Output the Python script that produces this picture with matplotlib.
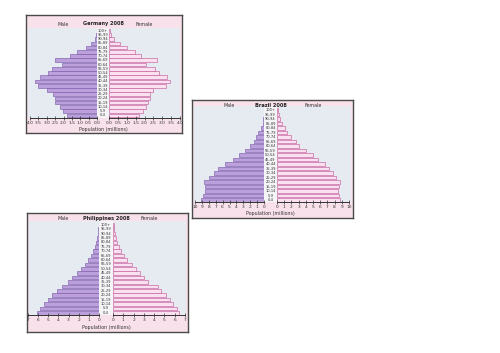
import matplotlib.pyplot as plt
from matplotlib.patches import Rectangle
from matplotlib.transforms import blended_transform_factory

W, H = 500, 353

ages = ['0-4', '5-9', '10-14', '15-19', '20-24', '25-29', '30-34', '35-39',
        '40-44', '45-49', '50-54', '55-59', '60-64', '65-69', '70-74',
        '75-79', '80-84', '85-89', '90-94', '95-99', '100+']

# values in millions, youngest group first
germany_male = [1.8, 2.05, 2.2, 2.5, 2.5, 2.6, 3.0, 3.5, 3.7, 3.4, 2.9,
                2.7, 2.1, 2.5, 1.6, 1.2, 0.65, 0.35, 0.1, 0.05, 0.01]
germany_female = [1.7, 1.9, 2.1, 2.2, 2.3, 2.3, 2.5, 3.2, 3.45, 3.25, 2.8,
                  2.6, 2.1, 2.7, 1.8, 1.45, 1.0, 0.6, 0.3, 0.12, 0.05]

brazil_male = [9.2, 8.8, 8.5, 8.5, 8.7, 7.9, 7.3, 6.6, 5.6, 4.5, 3.6,
               2.7, 2.0, 1.5, 1.2, 0.8, 0.5, 0.2, 0.1, 0.05, 0.02]
brazil_female = [8.8, 8.6, 8.5, 8.6, 8.8, 8.2, 7.8, 7.2, 6.6, 5.7, 5.0,
                 4.0, 3.1, 2.6, 2.0, 1.4, 1.05, 0.75, 0.45, 0.25, 0.1]

phil_male = [6.1, 5.8, 5.45, 5.0, 4.6, 4.1, 3.6, 3.05, 2.7, 2.2, 1.75,
             1.35, 1.05, 0.8, 0.55, 0.4, 0.25, 0.15, 0.1, 0.05, 0.02]
phil_female = [6.4, 6.2, 5.8, 5.5, 5.2, 4.7, 4.4, 3.4, 3.0, 2.6, 2.2,
               1.8, 1.4, 1.1, 0.8, 0.6, 0.4, 0.25, 0.15, 0.1, 0.05]

germany_ticks = [0, 0.5, 1.0, 1.5, 2.0, 2.5, 3.0, 3.5, 4.0]
germany_ticklabels = ['0.0', '0.5', '1.0', '1.5', '2.0', '2.5', '3.0', '3.5', '4.0']
brazil_ticks = list(range(0, 11))
phil_ticks = list(range(0, 8))

MALE_FILL, MALE_EDGE = '#bba0dc', '#7d5cab'
FEMALE_FILL, FEMALE_EDGE = '#fbe0ef', '#c55e9d'
FRAME_BG, PLOT_BG = '#f8e1ea', '#e6ebf2'

fig = plt.figure(figsize=(5, 3.53), dpi=100)
fig.patch.set_facecolor('white')


def box(x0, y0, x1, y1):
    return [x0 / W, 1 - y1 / H, (x1 - x0) / W, (y1 - y0) / H]


def pyramid(frame, plot, male_x, female_x, bars_y, title, male, female,
            xmax, ticks, ticklabels, title_y, label_y, xlabel_y):
    fx0, fy0, fx1, fy1 = frame
    # frame in pixel coords, relative to the figure
    bg = fig.add_axes(box(*frame))
    bg.set_xlim(fx0, fx1)
    bg.set_ylim(fy1, fy0)
    bg.set_facecolor(FRAME_BG)
    bg.set_xticks([])
    bg.set_yticks([])
    for s in bg.spines.values():
        s.set_color('#4a4a4a')
        s.set_linewidth(1.0)
    px0, py0, px1, py1 = plot
    bg.add_patch(Rectangle((px0, py0), px1 - px0, py1 - py0,
                           facecolor=PLOT_BG, edgecolor='none'))
    # white column for the age labels
    bg.add_patch(Rectangle((male_x[1], py0), female_x[0] - male_x[1], py1 - py0,
                           facecolor='#f4f4f6', edgecolor='none'))
    cx = (male_x[1] + female_x[0]) / 2
    bg.text(cx, title_y, title, ha='center', va='center', fontsize=3.6,
            fontweight='bold', color='#222')
    bg.text((male_x[0] + male_x[1]) / 2, title_y, 'Male', ha='center',
            va='center', fontsize=3.4, color='#333')
    bg.text((female_x[0] + female_x[1]) / 2, title_y, 'Female', ha='center',
            va='center', fontsize=3.4, color='#333')
    bg.text(cx, xlabel_y, 'Population (millions)', ha='center', va='center',
            fontsize=3.4, color='#333')

    y = list(range(len(ages)))
    axm = fig.add_axes(box(male_x[0], bars_y[0], male_x[1], bars_y[1]))
    axf = fig.add_axes(box(female_x[0], bars_y[0], female_x[1], bars_y[1]))
    axm.barh(y, male, height=0.86, color=MALE_FILL, edgecolor=MALE_EDGE, linewidth=0.45)
    axf.barh(y, female, height=0.86, color=FEMALE_FILL, edgecolor=FEMALE_EDGE, linewidth=0.45)
    axm.set_xlim(xmax, 0)
    axf.set_xlim(0, xmax)
    for ax in (axm, axf):
        ax.set_ylim(-0.5, len(ages) - 0.5)
        ax.patch.set_alpha(0)
        ax.set_yticks([])
        ax.set_xticks(ticks)
        ax.set_xticklabels(ticklabels)
        ax.tick_params(axis='x', direction='inout', length=2.2, width=0.5,
                       labelsize=3.2, pad=1.2, colors='#333')
        for side in ('top', 'left', 'right'):
            ax.spines[side].set_visible(False)
        ax.spines['bottom'].set_linewidth(0.7)
        ax.spines['bottom'].set_color('#333')
    # age labels in the middle column
    off = (female_x[0] - male_x[1]) / 2 / (male_x[1] - male_x[0])
    tr = blended_transform_factory(axm.transAxes, axm.transData)
    for i, a in enumerate(ages):
        axm.text(1 + off, i, a, transform=tr, ha='center', va='center',
                 fontsize=2.6, color='#333')


pyramid((26, 15, 182, 133), (28, 28, 180, 117.5), (30, 97), (109, 180),
        (28.5, 117.5), 'Germany 2008', germany_male, germany_female, 4.0,
        germany_ticks, germany_ticklabels, 24, 124, 130)

pyramid((192, 100, 353, 218), (194, 106, 351, 202.3), (195, 264), (277, 349),
        (107.8, 202.3), 'Brazil 2008', brazil_male, brazil_female, 10,
        brazil_ticks, [str(t) for t in brazil_ticks], 105.5, 208, 214)

pyramid((27, 213, 188, 332), (29, 221, 186, 315), (28, 99), (113, 185),
        (222.6, 315), 'Philippines 2008', phil_male, phil_female, 7,
        phil_ticks, [str(t) for t in phil_ticks], 218.5, 320, 327)

fig.savefig('out.png', dpi=100)
